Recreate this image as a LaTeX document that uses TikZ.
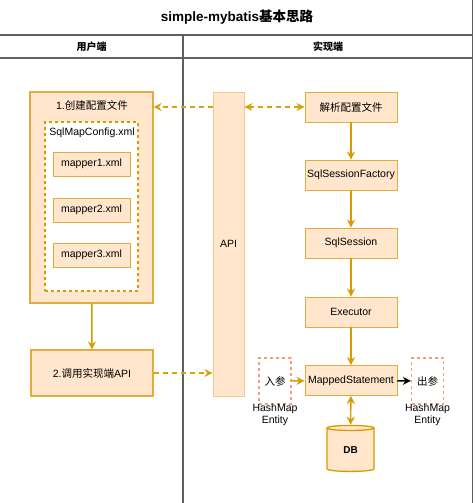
\documentclass[tikz,border=0pt]{standalone}
\usepackage{fontspec}
\setmainfont{Liberation Sans}
\newfontfamily\cjk{Noto Sans CJK SC}
\usetikzlibrary{arrows.meta,shapes.geometric}
\definecolor{boxfill}{RGB}{255,230,204}
\definecolor{boxline}{RGB}{225,172,60}
\definecolor{arrowline}{RGB}{215,155,0}
\definecolor{apiline}{RGB}{240,200,140}
\definecolor{linkgold}{RGB}{210,165,10}
\definecolor{paramline}{RGB}{240,160,120}
\definecolor{framegray}{RGB}{95,95,95}
\tikzset{
    orangebox/.style={draw=boxline, fill=boxfill, line width=0.9pt, inner sep=0pt, font=\fontsize{10.5}{12.5}\selectfont},
    filebox/.style={orangebox, minimum width=77pt, minimum height=24pt},
    stagebox/.style={orangebox, minimum width=92pt, minimum height=30pt},
    parambox/.style={draw=paramline, dashed, line width=1.3pt, minimum width=32pt, minimum height=46pt, inner sep=0pt, font=\fontsize{10.5}{12.5}\selectfont},
    plain/.style={inner sep=0pt, font=\fontsize{10.5}{12.5}\selectfont},
    flow/.style={draw=arrowline, line width=1.4pt, -{Stealth[length=8pt,width=8pt]}},
    link/.style={draw=linkgold, line width=1.4pt, dash pattern=on 5pt off 4pt, -{Stealth[length=8pt,width=8pt]}},
    frame/.style={draw=framegray, line width=1.6pt},
}

\begin{document}
\begin{tikzpicture}[x=1pt, y=-1pt]
    \useasboundingbox[fill=white] (0,0) rectangle (474,503);

    % frame
    \draw[frame] (0,35) -- (472.5,35);
    \draw[frame] (0,58) -- (472.5,58);
    \draw[frame] (183,35) -- (183,503);
    \draw[frame] (472.5,0) -- (472.5,503);
    \node[plain, font=\fontsize{13.5}{16}\selectfont\bfseries] (title) at (237,17) {simple-mybatis{\cjk\bfseries 基本思路}};
    \node[plain, font=\fontsize{10}{12}\selectfont\cjk\bfseries] (userside) at (91.5,47) {用户端};
    \node[plain, font=\fontsize{10}{12}\selectfont\cjk\bfseries] (implside) at (328,47) {实现端};

    % user side
    \node[orangebox, line width=1.1pt, minimum width=123pt, minimum height=211pt] (config) at (91.5,197.5) {};
    \node[plain] (configtitle) at (92,105) {1.{\cjk 创建配置文件}};
    \node[draw=arrowline, dashed, fill=white, line width=1.1pt, minimum width=93pt, minimum height=169pt, inner sep=0pt] (sqlmapconfig) at (91.5,206.5) {};
    \node[plain] (sqlmaptitle) at (92,133) {SqlMapConfig.xml};
    \node[filebox] (mapperone) at (91.5,164) {mapper1.xml};
    \node[filebox] (mappertwo) at (91.5,210) {mapper2.xml};
    \node[filebox] (mapperthree) at (91.5,255) {mapper3.xml};
    \node[orangebox, line width=1.1pt, minimum width=122pt, minimum height=46pt] (callapi) at (92,373) {2.{\cjk 调用实现端}API};

    % implementation side
    \node[orangebox, draw=apiline, minimum width=31pt, minimum height=304pt] (api) at (228.5,244) {API};
    \node[stagebox] (parse) at (351,107) {\cjk 解析配置文件};
    \node[stagebox] (factory) at (351,175) {SqlSessionFactory};
    \node[stagebox] (session) at (351,243) {SqlSession};
    \node[stagebox] (executor) at (351,312) {Executor};
    \node[stagebox] (mapped) at (351,380.5) {MappedStatement};
    \node[cylinder, shape border rotate=90, aspect=0.35, draw=arrowline, fill=boxfill, line width=1.3pt, minimum width=47pt, minimum height=46pt, inner sep=0pt, font=\fontsize{10}{12}\selectfont\bfseries] (db) at (350.5,450) {DB};
    \node[parambox] (inparam) at (275,381) {\cjk 入参};
    \node[parambox] (outparam) at (427.5,381) {\cjk 出参};
    \node[plain, align=center] (intype) at (275,415) {HashMap\\Entity};
    \node[plain, align=center] (outtype) at (427.5,415) {HashMap\\Entity};

    % connectors
    \draw[flow] (config) -- (callapi);
    \draw[link] (callapi.east) -- (callapi.east -| api.west);
    \draw[link] (api.west |- parse) -- (config.east |- parse);
    \draw[link, {Stealth[length=8pt,width=8pt]}-{Stealth[length=8pt,width=8pt]}] (api.east |- parse) -- (parse.west);
    \draw[flow] (parse) -- (factory);
    \draw[flow] (factory) -- (session);
    \draw[flow] (session) -- (executor);
    \draw[flow] (executor) -- (mapped);
    \draw[flow] (inparam) -- (mapped);
    \draw[flow, draw=black] (mapped) -- (outparam);
    \draw[flow, {Stealth[length=8pt,width=8pt]}-{Stealth[length=8pt,width=8pt]}] (mapped) -- (db);
\end{tikzpicture}
\end{document}
